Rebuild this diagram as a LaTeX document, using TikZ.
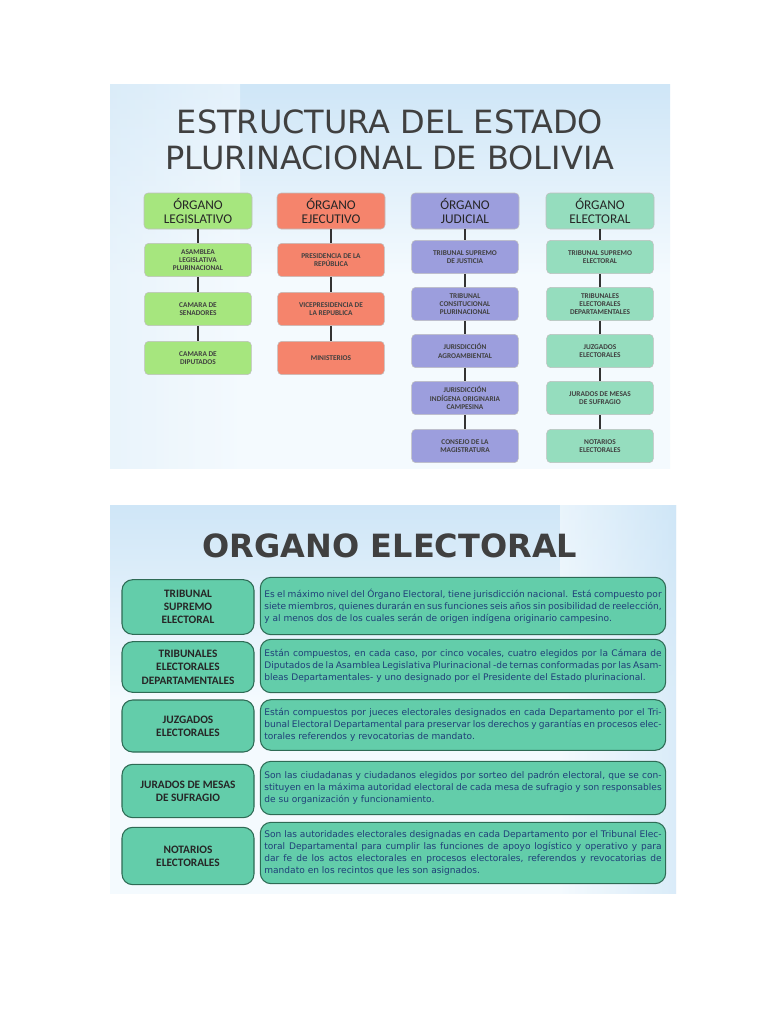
\documentclass[tikz,border=0pt]{standalone}
\usepackage{fontspec}
\setmainfont{Carlito}
\newfontfamily\titlefont{DejaVu Sans}
\begin{document}
\begin{tikzpicture}[x=0.75pt,y=-0.75pt]
\definecolor{bgA}{HTML}{CFE6F7}\definecolor{bgB}{HTML}{F4FAFE}
\definecolor{cleg}{HTML}{A6E67E}\definecolor{ceje}{HTML}{F5846C}
\definecolor{cjud}{HTML}{9C9EDD}\definecolor{cele}{HTML}{95DDBE}
\definecolor{tbox}{HTML}{63CDAA}\definecolor{tline}{HTML}{2E6B55}
\definecolor{ttext}{HTML}{1F3F78}
\tikzset{
 hdr/.style={draw=black!25,rounded corners=3,minimum width=81,minimum height=27,align=center,font=\fontsize{10}{10.5}\selectfont,text=black!85,inner sep=1},
 sub/.style={draw=black!25,rounded corners=3,minimum width=80,minimum height=25,align=center,font=\fontsize{5.5}{6.2}\selectfont\bfseries,text=black!75,inner sep=1},
 lk/.style={draw=black!80,line width=1.2},
 lbox/.style={draw=tline,fill=tbox,rounded corners=8,line width=0.8,align=center,font=\fontsize{8.5}{10}\selectfont\bfseries,text=black!85,minimum width=99,inner sep=2},
 rbox/.style={draw=tline,fill=tbox,rounded corners=8,line width=0.8,align=justify,font=\titlefont\fontsize{6.8}{9}\selectfont,text=ttext,text width=298,inner sep=3}
}
\useasboundingbox (0,0) rectangle (768,1024);
\fill[white] (0,0) rectangle (768,1024);
% top slide
\shade[top color=bgA,bottom color=bgB,middle color=bgB] (110,85) rectangle (670,468);
\shade[left color=bgA!60,right color=bgB,opacity=0.6] (110,85) rectangle (240,468);
\node[font=\titlefont\fontsize{24}{27}\selectfont,text=black!75,align=center] (title) at (390,140) {ESTRUCTURA DEL ESTADO\\PLURINACIONAL DE BOLIVIA};
% columns
\foreach \n/\x/\c/\t in {L/198/cleg/{ÓRGANO\\LEGISLATIVO},E/331/ceje/{ÓRGANO\\EJECUTIVO},J/465/cjud/{ÓRGANO\\JUDICIAL},T/600/cele/{ÓRGANO\\ELECTORAL}}
  \node[hdr,fill=\c] (\n0) at (\x,211) {\t};
\node[sub,fill=cleg] (L1) at (198,260) {ASAMBLEA\\LEGISLATIVA\\PLURINACIONAL};
\node[sub,fill=cleg] (L2) at (198,309) {CAMARA DE\\SENADORES};
\node[sub,fill=cleg] (L3) at (198,358) {CAMARA DE\\DIPUTADOS};
\node[sub,fill=ceje] (E1) at (331,260) {PRESIDENCIA DE LA\\REPÚBLICA};
\node[sub,fill=ceje] (E2) at (331,309) {VICEPRESIDENCIA DE\\LA REPUBLICA};
\node[sub,fill=ceje] (E3) at (331,358) {MINISTERIOS};
\node[sub,fill=cjud] (J1) at (465,257) {TRIBUNAL SUPREMO\\DE JUSTICIA};
\node[sub,fill=cjud] (J2) at (465,304) {TRIBUNAL\\CONSITUCIONAL\\PLURINACIONAL};
\node[sub,fill=cjud] (J3) at (465,351) {JURISDICCIÓN\\AGROAMBIENTAL};
\node[sub,fill=cjud] (J4) at (465,398) {JURISDICCIÓN\\INDÍGENA ORIGINARIA\\CAMPESINA};
\node[sub,fill=cjud] (J5) at (465,446) {CONSEJO DE LA\\MAGISTRATURA};
\node[sub,fill=cele] (T1) at (600,257) {TRIBUNAL SUPREMO\\ELECTORAL};
\node[sub,fill=cele] (T2) at (600,304) {TRIBUNALES\\ELECTORALES\\DEPARTAMENTALES};
\node[sub,fill=cele] (T3) at (600,351) {JUZGADOS\\ELECTORALES};
\node[sub,fill=cele] (T4) at (600,398) {JURADOS DE MESAS\\DE SUFRAGIO};
\node[sub,fill=cele] (T5) at (600,446) {NOTARIOS\\ELECTORALES};
\foreach \a/\b in {L0/L1,L1/L2,L2/L3,E0/E1,E1/E2,E2/E3,J0/J1,J1/J2,J2/J3,J3/J4,J4/J5,T0/T1,T1/T2,T2/T3,T3/T4,T4/T5}
  \draw[lk] (\a) -- (\b);
% bottom slide
\shade[top color=bgA,bottom color=bgB,middle color=bgB] (110,505) rectangle (676,893);
\shade[left color=bgB,right color=bgA,opacity=0.7] (560,505) rectangle (676,893);
\node[font=\titlefont\bfseries\fontsize{24}{26}\selectfont,text=black!75] (t2) at (390,546) {ORGANO ELECTORAL};
\node[lbox,minimum height=41] (a1) at (188,607) {TRIBUNAL\\SUPREMO\\ELECTORAL};
\node[lbox,minimum height=38] (a2) at (188,667) {TRIBUNALES\\ELECTORALES\\DEPARTAMENTALES};
\node[lbox,minimum height=39] (a3) at (188,726) {JUZGADOS\\ELECTORALES};
\node[lbox,minimum height=40] (a4) at (188,791) {JURADOS DE MESAS\\DE SUFRAGIO};
\node[lbox,minimum height=43] (a5) at (188,856) {NOTARIOS\\ELECTORALES};
\node[rbox,minimum height=43] (b1) at (463,606) {Es el máximo nivel del Órgano Electoral, tiene jurisdicción nacional. Está compuesto por siete miembros, quienes durarán en sus funciones seis años sin posibilidad de reelección, y al menos dos de los cuales serán de origen indígena originario campesino.};
\node[rbox,minimum height=40] (b2) at (463,666) {Están compuestos, en cada caso, por cinco vocales, cuatro elegidos por la Cámara de Diputados de la Asamblea Legislativa Plurinacional -de ternas conformadas por las Asambleas Departamentales- y uno designado por el Presidente del Estado plurinacional.};
\node[rbox,minimum height=38] (b3) at (463,725) {Están compuestos por jueces electorales designados en cada Departamento por el Tribunal Electoral Departamental para preservar los derechos y garantías en procesos electorales referendos y revocatorias de mandato.};
\node[rbox,minimum height=40] (b4) at (463,788) {Son las ciudadanas y ciudadanos elegidos por sorteo del padrón electoral, que se constituyen en la máxima autoridad electoral de cada mesa de sufragio y son responsables de su organización y funcionamiento.};
\node[rbox,minimum height=46] (b5) at (463,853) {Son las autoridades electorales designadas en cada Departamento por el Tribunal Electoral Departamental para cumplir las funciones de apoyo logístico y operativo y para dar fe de los actos electorales en procesos electorales, referendos y revocatorias de mandato en los recintos que les son asignados.};
\end{tikzpicture}
\end{document}
